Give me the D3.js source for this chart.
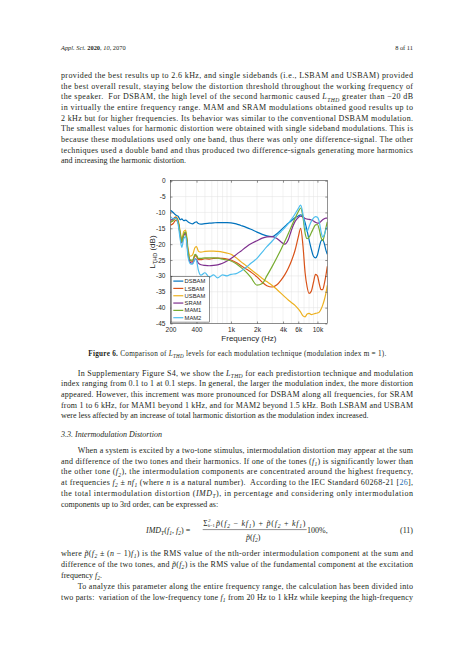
<!DOCTYPE html>
<html><head><meta charset="utf-8">
<script src="https://cdn.jsdelivr.net/npm/d3@7"></script>
<style>body{margin:0;background:#fff;} svg{display:block}</style>
</head><body>
<svg id="page" width="474" height="670"></svg>
<script>
// ---------- DATA ----------
const freqs = [200,215,230,245,260,270,285,300,320,340,360,385,400,420,450,500,560,630,700,800,900,1000,1150,1300,1500,1700,2000,2300,2600,3000,3400,3800,4200,4600,5000,5500,6000,6400,6800,7200,7600,8000,8500,9000,9500,10000,10500,11000,11500,12000,12500,13000];
const dsbam = [-9.3,-10.0,-10.8,-11.2,-12.3,-12.0,-12.6,-12.4,-13.0,-13.4,-13.6,-13.1,-13.0,-13.5,-13.7,-13.5,-13.4,-13.3,-13.2,-13.2,-13.2,-13.3,-13.6,-14.1,-14.7,-15.3,-16.2,-16.9,-17.4,-17.6,-16.7,-15.5,-14.4,-13.4,-12.6,-11.7,-11.1,-10.8,-11.3,-13.2,-15.8,-18.6,-21.6,-23.8,-24.3,-23.4,-21.0,-19.0,-18.6,-19.8,-21.8,-23.2];
const lsbam = [-14.0,-13.5,-12.4,-13.2,-17.2,-19.0,-17.0,-16.4,-22.8,-25.2,-25.4,-23.6,-23.9,-24.9,-24.9,-24.6,-24.7,-24.5,-24.4,-24.5,-24.7,-25.0,-25.8,-26.7,-27.8,-28.8,-30.3,-32.0,-33.1,-33.5,-32.8,-31.3,-29.6,-27.6,-25.3,-22.0,-17.8,-15.0,-20.5,-29.0,-33.5,-35.5,-34.8,-32.0,-29.5,-30.0,-32.5,-34.3,-34.3,-32.5,-30.0,-27.0];
const usbam = [-13.2,-12.3,-11.3,-12.4,-16.3,-18.4,-16.0,-15.6,-21.6,-23.8,-23.4,-21.0,-20.8,-22.2,-22.5,-22.3,-22.2,-22.2,-22.3,-22.5,-22.8,-23.2,-24.3,-25.5,-26.8,-28.0,-29.5,-30.8,-31.8,-33.0,-34.3,-35.5,-36.6,-37.6,-38.4,-39.3,-40.4,-41.4,-42.6,-42.9,-42.0,-41.8,-42.2,-42.0,-41.8,-41.7,-41.4,-40.5,-39.2,-37.6,-35.6,-33.0];
const sram  = [-12.5,-12.0,-11.6,-13.0,-17.6,-19.6,-17.2,-16.7,-23.2,-25.8,-26.0,-24.6,-24.9,-26.0,-26.5,-26.7,-26.8,-26.7,-26.5,-26.0,-25.3,-24.5,-23.3,-22.2,-20.9,-19.9,-18.9,-18.1,-17.7,-17.6,-18.2,-19.3,-20.0,-18.6,-15.6,-12.9,-11.6,-11.2,-11.4,-11.9,-12.1,-12.2,-12.4,-12.7,-13.1,-13.4,-13.3,-12.8,-12.3,-12.0,-11.8,-11.8];
const mam1  = [-13.0,-12.6,-11.8,-12.9,-17.0,-19.3,-16.8,-16.1,-22.6,-25.0,-25.0,-23.2,-23.5,-24.5,-24.5,-24.3,-24.3,-24.3,-24.4,-24.7,-25.0,-25.3,-26.2,-27.3,-28.8,-30.5,-32.9,-32.4,-30.0,-27.0,-24.2,-21.6,-19.1,-16.7,-14.4,-11.9,-9.8,-8.6,-11.5,-16.5,-18.3,-17.8,-16.4,-15.0,-13.9,-13.8,-15.4,-17.9,-18.9,-17.4,-15.0,-13.0];
const mam2  = [-11.3,-12.0,-11.8,-13.8,-18.8,-21.0,-18.2,-17.6,-24.2,-26.2,-26.3,-24.6,-25.2,-28.2,-29.8,-29.0,-30.4,-29.7,-30.6,-29.7,-30.0,-29.5,-29.3,-28.5,-27.3,-26.0,-24.5,-22.5,-20.8,-19.0,-17.3,-16.0,-14.8,-13.5,-12.2,-10.5,-8.8,-7.7,-10.5,-14.8,-16.0,-14.5,-12.8,-11.8,-11.3,-11.5,-13.0,-16.0,-17.8,-17.0,-15.5,-14.5];
const seriesNames  = ["DSBAM","LSBAM","USBAM","SRAM","MAM1","MAM2"];
const seriesColors = ["#0072BD","#D95319","#EDB120","#7E2F8E","#77AC30","#4DBEEE"];
const seriesValues = [dsbam, lsbam, usbam, sram, mam1, mam2];
const xTicks = [200,400,1000,2000,4000,6000,10000];
const xTickLabels = ["200","400","1k","2k","4k","6k","10k"];
const yTicks = [0,-5,-10,-15,-20,-25,-30,-35,-40,-45];

// ---------- PAGE ----------
const svg = d3.select("#page");
svg.append("rect").attr("width",474).attr("height",670).attr("fill","#fff");
const SERIF = "'Liberation Serif','DejaVu Serif',serif";
const SANS = "'Liberation Sans',Arial,sans-serif";
const INK = "#231f20";

function rich(parent, str, x, yb, o) {
  o = o || {};
  const size = o.size || 8;
  const t = parent.append("text").attr("x", x).attr("y", yb)
    .attr("font-family", o.family || SERIF).attr("font-size", size)
    .attr("fill", o.fill || INK).attr("text-anchor", o.anchor || "start")
    .attr("xml:space","preserve");
  if (o.style) t.attr("font-style", o.style);
  if (o.width) t.attr("textLength", o.width).attr("lengthAdjust", "spacing");
  const toks = str.split(/(\*[^*]*\*|#[^#]*#|_\{[^}]*\}|@[^@]*@)/).filter(s => s.length);
  let shift = 0;
  toks.forEach(tok => {
    let txt = tok, style = null, weight = null, fill = null, sub = false;
    if (tok[0] === "*") { txt = tok.slice(1,-1); style = "italic"; }
    else if (tok[0] === "#") { txt = tok.slice(1,-1); weight = "bold"; }
    else if (tok[0] === "@") { txt = tok.slice(1,-1); fill = "#1f6fb5"; }
    else if (tok.startsWith("_{")) { txt = tok.slice(2,-1); sub = true; style = "italic"; }
    const ts = t.append("tspan").text(txt);
    if (style) ts.attr("font-style", style);
    if (weight) ts.attr("font-weight", weight);
    if (fill) ts.attr("fill", fill);
    if (sub) {
      ts.attr("font-size", size*0.7);
      const d = size*0.26;
      ts.attr("dy", d - shift); shift = d;
    } else if (shift) {
      ts.attr("dy", -shift); shift = 0;
    }
  });
  return t;
}

const L = 61, R = 413, TW = R - L;
// header
rich(svg, "*Appl. Sci.* #2020#, *10*, 2070", L, 50, {size:6.4});
rich(svg, "8 of 11", R, 50, {size:6.4, anchor:"end"});

function para(lines, y0, dy, indentFirst, lastJust) {
  lines.forEach((s, i) => {
    const ind = (i === 0 && indentFirst) ? 16.7 : 0;
    const last = i === lines.length - 1;
    const o = {size:8};
    if (!last || lastJust) o.width = TW - ind;
    rich(svg, s, L + ind, y0 + i*dy, o);
  });
}

para([
 "provided the best results up to 2.6 kHz, and single sidebands (i.e., LSBAM and USBAM) provided",
 "the best overall result, staying below the distortion threshold throughout the working frequency of",
 "the speaker.  For DSBAM, the high level of the second harmonic caused *L*_{THD} greater than −20 dB",
 "in virtually the entire frequency range. MAM and SRAM modulations obtained good results up to",
 "2 kHz but for higher frequencies. Its behavior was similar to the conventional DSBAM modulation.",
 "The smallest values for harmonic distortion were obtained with single sideband modulations. This is",
 "because these modulations used only one band, thus there was only one difference-signal. The other",
 "techniques used a double band and thus produced two difference-signals generating more harmonics",
 "and increasing the harmonic distortion."
], 78.1, 10.67, false, false);

rich(svg, "#Figure 6.# Comparison of *L*_{THD} levels for each modulation technique (modulation index m = 1).", 88.3, 356.3, {size:7.2, width:298});

para([
 "In Supplementary Figure S4, we show the *L*_{THD} for each predistortion technique and modulation",
 "index ranging from 0.1 to 1 at 0.1 steps. In general, the larger the modulation index, the more distortion",
 "appeared. However, this increment was more pronounced for DSBAM along all frequencies, for SRAM",
 "from 1 to 6 kHz, for MAM1 beyond 1 kHz, and for MAM2 beyond 1.5 kHz. Both LSBAM and USBAM",
 "were less affected by an increase of total harmonic distortion as the modulation index increased."
], 375.6, 10.67, true, false);

rich(svg, "3.3. Intermodulation Distortion", L, 436.6, {size:8, style:"italic"});

para([
 "When a system is excited by a two-tone stimulus, intermodulation distortion may appear at the sum",
 "and difference of the two tones and their harmonics. If one of the tones (*f*_{1}) is significantly lower than",
 "the other tone (*f*_{2}), the intermodulation components are concentrated around the highest frequency,",
 "at frequencies *f*_{2} ± *nf*_{1} (where *n* is a natural number).  According to the IEC Standard 60268-21 [@26@],",
 "the total intermodulation distortion (*IMD*_{T}), in percentage and considering only intermodulation",
 "components up to 3rd order, can be expressed as:"
], 453.0, 10.73, true, false);

// equation
rich(svg, "*IMD*_{T}(*f*_{1}, *f*_{2}) =", 146, 532.6, {size:8});
svg.append("line").attr("x1",202.7).attr("x2",306.7).attr("y1",529.6).attr("y2",529.6)
  .attr("stroke",INK).attr("stroke-width",0.5);
rich(svg, "Σ", 203.3, 525.6, {size:7.5});
rich(svg, "2", 208.3, 521.8, {size:4.5, style:"italic"});
rich(svg, "*k*=1", 208.0, 527.3, {size:4.5});
rich(svg, "*p\u0303*(*f*_{2} − *kf*_{1}) + *p\u0303*(*f*_{2} + *kf*_{1})", 216, 525.6, {size:8, width:89.5});
rich(svg, "*p\u0303*(*f*_{2})", 253.3, 539.6, {size:8, anchor:"middle"});
rich(svg, "100%,", 307, 532.6, {size:8});
rich(svg, "(11)", R, 532.6, {size:8, anchor:"end"});

para([
 "where *p\u0303*(*f*_{2} ± (*n* − 1)*f*_{1}) is the RMS value of the nth-order intermodulation component at the sum and",
 "difference of the two tones, and *p\u0303*(*f*_{2}) is the RMS value of the fundamental component at the excitation",
 "frequency *f*_{2}."
], 556.3, 10.8, false, false);

para([
 "To analyze this parameter along the entire frequency range, the calculation has been divided into",
 "two parts:  variation of the low-frequency tone *f*_{1} from 20 Hz to 1 kHz while keeping the high-frequency"
], 589.0, 10.6, true, true);

// ---------- CHART ----------
const P = {l:170.5, r:327.3, t:180.7, b:323.5};
const x = d3.scaleLog().domain([200, 13000]).range([P.l, P.r]);
const y = d3.scaleLinear().domain([-45, 0]).range([P.b, P.t]);
const chart = svg.append("g");

// grid
const minor = [];
[100,1000,10000].forEach(dec => { for (let k=1;k<=9;k++){ const v=dec*k; if (v>=200 && v<=13000) minor.push(v);} });
chart.append("g").selectAll("line").data(minor).join("line")
  .attr("x1", d=>x(d)).attr("x2", d=>x(d)).attr("y1", P.t).attr("y2", P.b)
  .attr("stroke", "#e4e4e4").attr("stroke-width", 0.5);
chart.append("g").selectAll("line").data(yTicks).join("line")
  .attr("x1", P.l).attr("x2", P.r).attr("y1", d=>y(d)).attr("y2", d=>y(d))
  .attr("stroke", "#e2e2e2").attr("stroke-width", 0.5);

// lines
svg.append("defs").append("clipPath").attr("id","pc").append("rect")
  .attr("x",P.l).attr("y",P.t).attr("width",P.r-P.l).attr("height",P.b-P.t);
const line = d3.line().x(d=>x(d[0])).y(d=>y(d[1])).curve(d3.curveMonotoneX);
const lg = chart.append("g").attr("clip-path","url(#pc)");
seriesValues.forEach((vals, i) => {
  lg.append("path").datum(freqs.map((f,j)=>[f, vals[j]]))
    .attr("d", line).attr("fill","none").attr("stroke", seriesColors[i])
    .attr("stroke-width", 1.2).attr("stroke-linejoin","round");
});

// axes
const axCol = "#262626";
const xa = chart.append("g").attr("transform",`translate(0,${P.b})`)
  .call(d3.axisBottom(x).tickValues(xTicks).tickFormat((d,i)=>xTickLabels[i]).tickSizeInner(-2).tickSizeOuter(0).tickPadding(4));
const xt = chart.append("g").attr("transform",`translate(0,${P.t})`)
  .call(d3.axisTop(x).tickValues(xTicks).tickFormat("").tickSizeInner(-2).tickSizeOuter(0));
const ya = chart.append("g").attr("transform",`translate(${P.l},0)`)
  .call(d3.axisLeft(y).tickValues(yTicks).tickFormat(d=>String(d)).tickSizeInner(-2).tickSizeOuter(0).tickPadding(5));
const yr = chart.append("g").attr("transform",`translate(${P.r},0)`)
  .call(d3.axisRight(y).tickValues(yTicks).tickFormat("").tickSizeInner(-2).tickSizeOuter(0));
[xa,xt,ya,yr].forEach(g => {
  g.select(".domain").remove();
  g.selectAll(".tick line").attr("stroke", axCol).attr("stroke-width", 0.5);
  g.selectAll(".tick text").attr("fill", axCol).attr("font-family", SANS).attr("font-size", 6.5);
});
chart.append("rect").attr("x",P.l).attr("y",P.t).attr("width",P.r-P.l).attr("height",P.b-P.t)
  .attr("fill","none").attr("stroke",axCol).attr("stroke-width",0.5);

// axis labels
chart.append("text").attr("x", (P.l+P.r)/2).attr("y", 341).attr("text-anchor","middle")
  .attr("font-family", SANS).attr("font-size", 8).attr("fill", axCol).text("Frequency (Hz)");
const yl = chart.append("text").attr("transform", `translate(154.5,${(P.t+P.b)/2}) rotate(-90)`)
  .attr("text-anchor","middle").attr("font-family", SANS).attr("font-size", 8).attr("fill", axCol);
yl.append("tspan").text("L");
yl.append("tspan").text("THD").attr("font-size", 5.6).attr("dy", 2);
yl.append("tspan").text(" (dB)").attr("dy", -2);

// legend
const leg = chart.append("g");
leg.append("rect").attr("x",171.2).attr("y",276.7).attr("width",38.2).attr("height",45.4)
  .attr("fill","#fff").attr("stroke",axCol).attr("stroke-width",0.5);
seriesNames.forEach((n, i) => {
  const yy = 281.1 + i*7.32;
  leg.append("line").attr("x1",173.3).attr("x2",183.3).attr("y1",yy).attr("y2",yy)
    .attr("stroke", seriesColors[i]).attr("stroke-width", 1.2);
  leg.append("text").attr("x",184.6).attr("y",yy+2.1).attr("font-family",SANS)
    .attr("font-size",5.8).attr("fill",axCol).text(n);
});
</script>
</body></html>
